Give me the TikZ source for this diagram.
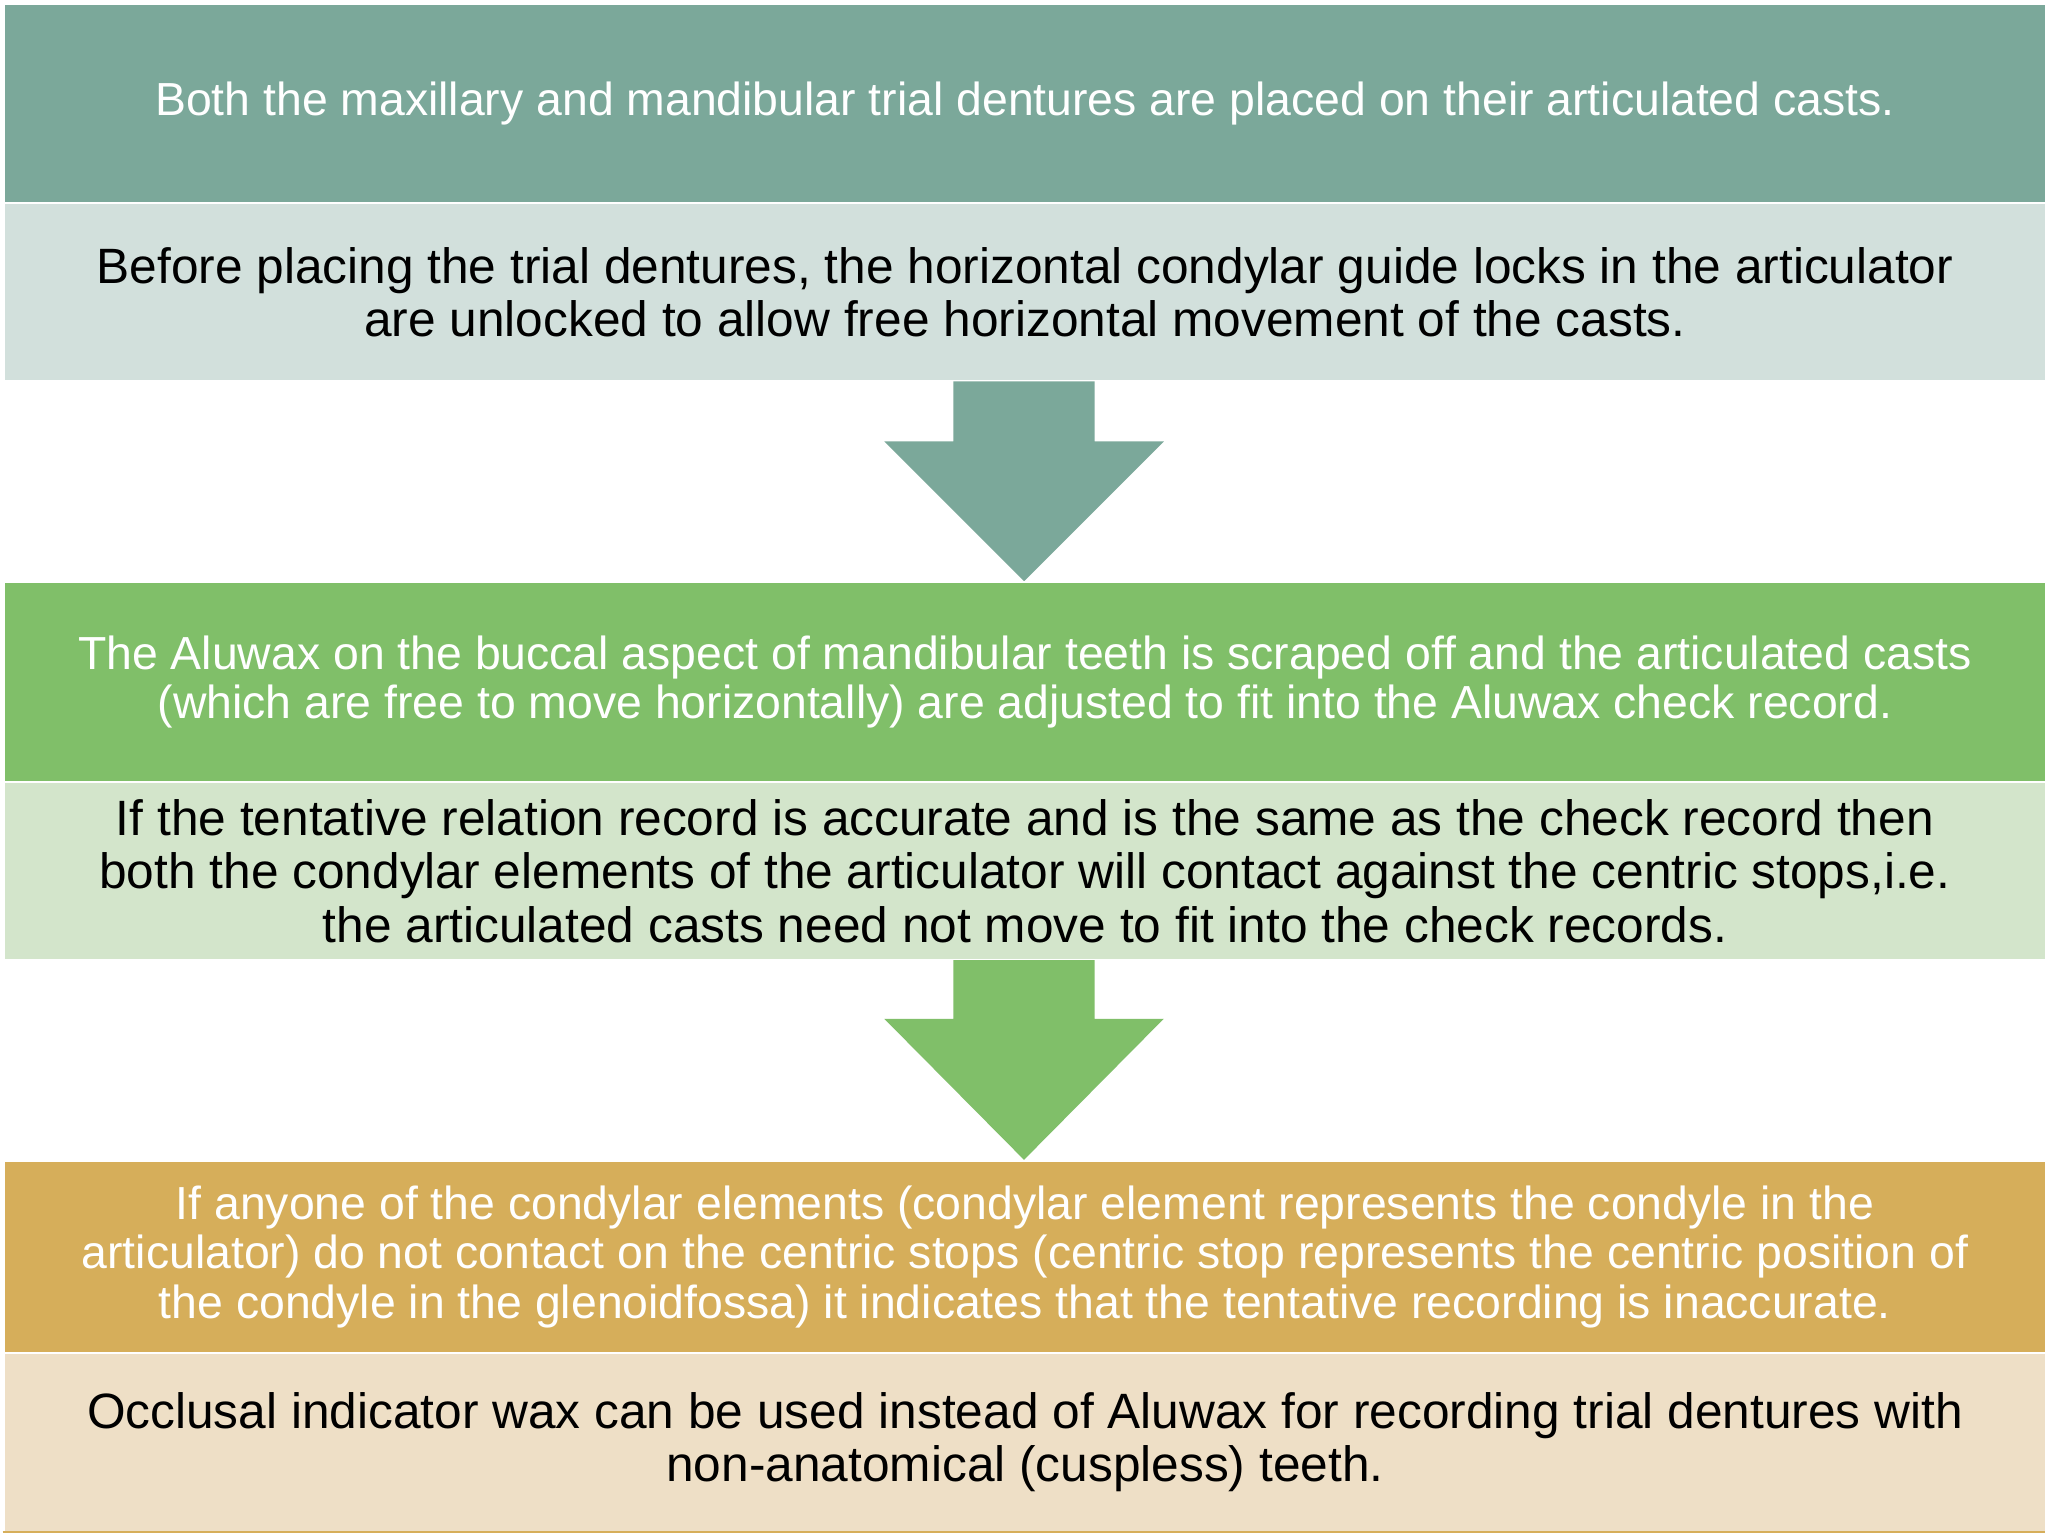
\documentclass[tikz,border=0pt]{standalone}
\usepackage{fontspec}
\setmainfont{Liberation Sans}
\definecolor{tealD}{HTML}{7BA89A}
\definecolor{tealL}{HTML}{D2E0DC}
\definecolor{grnD}{HTML}{80BF69}
\definecolor{grnL}{HTML}{D3E5CB}
\definecolor{gldD}{HTML}{D6AE5A}
\definecolor{gldL}{HTML}{EEDFC6}
\begin{document}
\begin{tikzpicture}[x=1pt,y=-1pt,
  hd/.style={draw=white,line width=1.5pt,minimum width=1564pt,align=center,anchor=north west,inner sep=0pt,text=white,font=\fontsize{35.5}{38}\selectfont},
  bd/.style={draw=white,line width=1.5pt,minimum width=1564pt,align=center,anchor=north west,inner sep=0pt,text=black,font=\fontsize{38}{41}\selectfont}]
\useasboundingbox[fill=white] (0,0) rectangle (1568,1176);
\node[hd,fill=tealD,minimum height=153pt] (h1) at (2,2) {Both the maxillary and mandibular trial dentures are placed on their articulated casts.};
\node[bd,fill=tealL,minimum height=136pt] (b1) at (2,155) {Before placing the trial dentures, the horizontal condylar guide locks in the articulator\\are unlocked to allow free horizontal movement of the casts.};
\fill[tealD] (730,292) -- (838,292) -- (838,338) -- (891,338) -- (784,445) -- (677,338) -- (730,338) -- cycle;
\node[hd,fill=grnD,minimum height=153pt] (h2) at (2,445) {The Aluwax on the buccal aspect of mandibular teeth is scraped off and the articulated casts\\(which are free to move horizontally) are adjusted to fit into the Aluwax check record.};
\node[bd,fill=grnL,minimum height=136pt] (b2) at (2,598) {If the tentative relation record is accurate and is the same as the check record then\\both the condylar elements of the articulator will contact against the centric stops,i.e.\\the articulated casts need not move to fit into the check records.};
\fill[grnD] (730,735) -- (838,735) -- (838,780) -- (891,780) -- (784,888) -- (677,780) -- (730,780) -- cycle;
\node[hd,fill=gldD,minimum height=147pt] (h3) at (2,888) {If anyone of the condylar elements (condylar element represents the condyle in the\\articulator) do not contact on the centric stops (centric stop represents the centric position of\\the condyle in the glenoidfossa) it indicates that the tentative recording is inaccurate.};
\node[bd,fill=gldL,minimum height=137pt] (b3) at (2,1035) {Occlusal indicator wax can be used instead of Aluwax for recording trial dentures with\\non-anatomical (cuspless) teeth.};
\draw[gldD,line width=1.5pt] (2,1173) -- (1566,1173);
\end{tikzpicture}
\end{document}
